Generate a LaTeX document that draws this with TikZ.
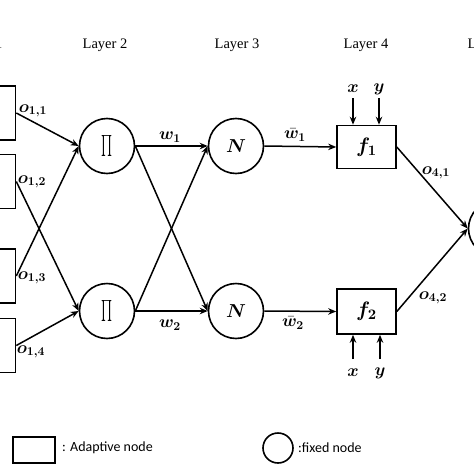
\documentclass[tikz,border=0pt]{standalone}
\usepackage{fontspec}
\setmainfont{Liberation Serif}
\newfontfamily\legendfont{Carlito}
\usepackage{amsmath, bm}
\usepackage{graphicx}
\usetikzlibrary{arrows.meta, positioning, calc}
\tikzset{
    adapt_box/.style={
        rectangle, draw=black, line width=1.6pt,
        minimum width=59pt, minimum height=54pt, inner sep=0pt
    },
    fixed_node/.style={
        circle, draw=black, line width=1.6pt,
        minimum size=55pt, inner sep=0pt
    },
    net_arrow/.style={
        -{Stealth[length=8pt, width=6.5pt]}, line width=1.5pt, draw=black
    },
    layer_lbl/.style={font=\fontsize{14.5}{17}\selectfont, inner sep=0pt},
    math_lbl/.style={font=\fontsize{14.4}{17}\selectfont, inner sep=0pt, scale=1.2},
    legend_lbl/.style={font=\legendfont\fontsize{14}{17}\selectfont, inner sep=0pt, anchor=west}
}

\begin{document}
\begin{tikzpicture}[x=1pt, y=-1pt]

    \useasboundingbox (0,0) rectangle (474,474);

    % layer titles
    \node[layer_lbl] (t1) at (-20, 45) {Layer 1};
    \node[layer_lbl] (t2) at (105, 45) {Layer 2};
    \node[layer_lbl] (t3) at (237, 45) {Layer 3};
    \node[layer_lbl] (t4) at (366, 45) {Layer 4};
    \node[layer_lbl] (t5) at (490, 45) {Layer 5};

    % layer 1
    \node[adapt_box] (in1) at (-14, 113) {};
    \node[adapt_box] (in2) at (-14, 181.5) {};
    \node[adapt_box] (in3) at (-14, 276) {};
    \node[adapt_box] (in4) at (-14, 345.5) {};

    % layer 2 and 3
    \node[fixed_node] (pi1) at (107, 146) {\resizebox*{11pt}{21pt}{$\prod$}};
    \node[fixed_node] (pi2) at (107, 311) {\resizebox*{11pt}{21pt}{$\prod$}};
    \node[fixed_node, font=\fontsize{14.4}{17}\selectfont] (n1) at (236, 146) {\scalebox{1.3}{$\bm{N}$}};
    \node[fixed_node, font=\fontsize{14.4}{17}\selectfont] (n2) at (236, 311) {\scalebox{1.3}{$\bm{N}$}};

    % layer 4
    \node[adapt_box, minimum height=43pt, font=\fontsize{14.4}{17}\selectfont] (f1) at (366.5, 147) {\scalebox{1.45}{$\bm{f_1}$}};
    \node[adapt_box, minimum height=45pt, font=\fontsize{14.4}{17}\selectfont] (f2) at (366.5, 311.5) {\scalebox{1.45}{$\bm{f_2}$}};

    % layer 5
    \node[fixed_node] (out) at (496, 228.5) {};

    % connectors
    \draw[net_arrow] (in1.east) -- (pi1.west);
    \draw[net_arrow] (in2.east) -- (pi2.west);
    \draw[net_arrow] (in3.east) -- (pi1.west);
    \draw[net_arrow] (in4.east) -- (pi2.west);
    \draw[net_arrow] (pi1.east) -- (n1.west);
    \draw[net_arrow] (pi1.east) -- (n2.west);
    \draw[net_arrow] (pi2.east) -- (n1.west);
    \draw[net_arrow] (pi2.east) -- (n2.west);
    \draw[net_arrow] (n1.east) -- (f1.west);
    \draw[net_arrow] (n2.east) -- (f2.west);
    \draw[net_arrow] (f1.east) -- (out.west);
    \draw[net_arrow] (f2.east) -- (out.west);

    % edge labels
    \node[math_lbl] (o11) at (33, 111) {$\bm{o_{1,1}}$};
    \node[math_lbl] (o12) at (32, 182) {$\bm{o_{1,2}}$};
    \node[math_lbl] (o13) at (32, 278) {$\bm{o_{1,3}}$};
    \node[math_lbl] (o14) at (31, 352) {$\bm{o_{1,4}}$};
    \node[math_lbl] (w1) at (170, 137) {$\bm{w_1}$};
    \node[math_lbl] (w2) at (170, 325) {$\bm{w_2}$};
    \node[math_lbl] (wb1) at (295, 135) {$\bm{\bar{w}_1}$};
    \node[math_lbl] (wb2) at (293, 323) {$\bm{\bar{w}_2}$};
    \node[math_lbl] (o41) at (436, 173) {$\bm{o_{4,1}}$};
    \node[math_lbl] (o42) at (433, 298) {$\bm{o_{4,2}}$};

    % premise inputs
    \node[math_lbl] (x1) at (353, 89) {$\bm{x}$};
    \node[math_lbl] (y1) at (379, 89) {$\bm{y}$};
    \node[math_lbl] (x2) at (353, 373) {$\bm{x}$};
    \node[math_lbl] (y2) at (380, 373) {$\bm{y}$};
    \coordinate (x1s) at (353, 98);
    \coordinate (y1s) at (379, 98);
    \coordinate (x2s) at (353, 359);
    \coordinate (y2s) at (380, 359);
    \draw[net_arrow] (x1s) -- (x1s |- f1.north);
    \draw[net_arrow] (y1s) -- (y1s |- f1.north);
    \draw[net_arrow] (x2s) -- (x2s |- f2.south);
    \draw[net_arrow] (y2s) -- (y2s |- f2.south);

    % legend
    \node[adapt_box, minimum width=42pt, minimum height=26pt] (leg_box) at (34, 450) {};
    \node[legend_lbl] (leg_box_txt) at (62, 448) {: Adaptive node};
    \node[fixed_node, minimum size=30pt] (leg_circ) at (278, 448) {};
    \node[legend_lbl] (leg_circ_txt) at (298, 448) {:fixed node};

\end{tikzpicture}
\end{document}
